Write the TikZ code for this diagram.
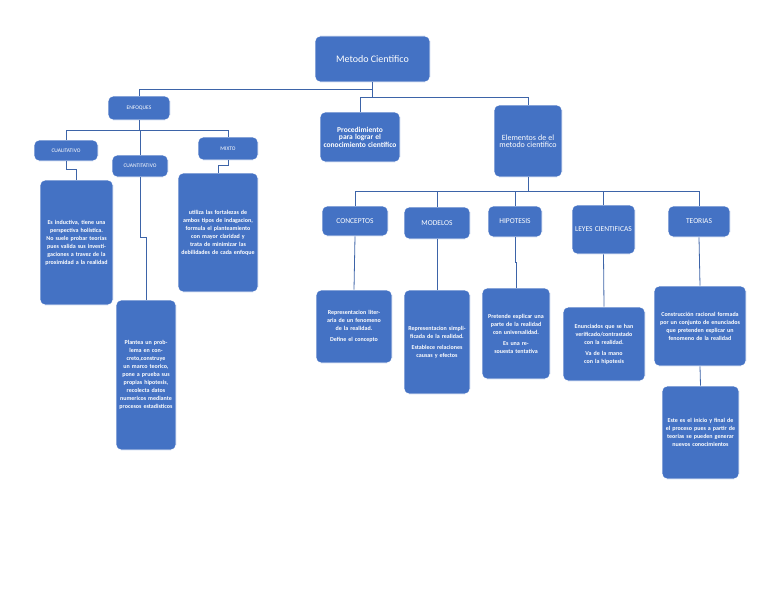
\documentclass[tikz,border=0pt]{standalone}
\usepackage{fontspec}
\setmainfont{Carlito}
\definecolor{bx}{HTML}{4472C4}
\definecolor{ln}{HTML}{3D64A8}
\begin{document}
\begin{tikzpicture}[x=1pt,y=-1pt,
 bx/.style={draw=white,line width=0.8pt,fill=bx,rounded corners=5pt,text=white,align=center,inner sep=2pt,font=\fontsize{6.3}{7.4}\selectfont},
 bt/.style={bx,font=\bfseries\fontsize{6}{8}\selectfont},
 ln/.style={draw=ln,line width=0.8pt}]
\useasboundingbox (0,0) rectangle (768,594);
\newcommand\bxat[6]{\node[#1,minimum width=#4-#2,minimum height=#5-#3,text width=#4-#2-6] (#6) at ({(#2+#4)/2},{(#3+#5)/2})}
\bxat{bx}{315}{36}{430}{82}{m}{\fontsize{10}{12}\selectfont Metodo Cientifico};
\bxat{bx}{108}{96}{170}{120}{enf}{\fontsize{5.5}{7}\selectfont ENFOQUES};
\bxat{bx}{34}{140}{98}{161}{cual}{\fontsize{5.5}{7}\selectfont CUALITATIVO};
\bxat{bx}{112}{155}{168}{177}{cuan}{\fontsize{5.5}{7}\selectfont CUANTITATIVO};
\bxat{bx}{198}{137}{258}{160}{mix}{\fontsize{5.5}{7}\selectfont MIXTO};
\bxat{bt}{40}{180}{113}{305}{cualt}{Es inductiva, tiene una perspectiva holística. No suele probar teorías pues valida sus investigaciones a travez de la proximidad a la realidad};
\bxat{bt}{178}{173}{258}{292}{mixt}{utiliza las fortalezas de ambos tipos de indagacion, formula el planteamiento con mayor claridad y trata de minimizar las debilidades de cada enfoque};
\bxat{bt}{116}{300}{176}{450}{cuant}{Plantea un problema en concreto,construye un marco teorico, pone a prueba sus propias hipotesis, recolecta datos numericos mediante procesos estadisticos};
\bxat{bx}{320}{112}{400}{162}{proc}{\bfseries\fontsize{7.5}{8.5}\selectfont Procedimiento para lograr el conocimiento científico};
\bxat{bx}{494}{105}{562}{177}{el}{\fontsize{8}{10}\selectfont Elementos de el metodo cientifico};
\bxat{bx}{322}{206}{388}{236}{con}{\fontsize{7.5}{9}\selectfont CONCEPTOS};
\bxat{bx}{404}{207}{470}{239}{mod}{\fontsize{7.5}{9}\selectfont MODELOS};
\bxat{bx}{488}{206}{542}{237}{hip}{\fontsize{7.5}{9}\selectfont HIPOTESIS};
\bxat{bx}{572}{205}{635}{254}{ley}{\fontsize{7.5}{9}\selectfont LEYES CIENTIFICAS};
\bxat{bx}{668}{206}{730}{237}{teo}{\fontsize{7.5}{9}\selectfont TEORIAS};
\bxat{bt}{316}{290}{392}{363}{cont}{Representacion literaria de un fenomeno de la realidad.\\[3pt] Define el concepto};
\bxat{bt}{404}{290}{470}{394}{modt}{Representacion simplificada de la realidad.\\[3pt] Establece relaciones causas y efectos};
\bxat{bt}{482}{288}{550}{379}{hipt}{Pretende explicar una parte de la realidad con universalidad.\\[3pt] Es una resouesta tentativa};
\bxat{bt}{563}{307}{645}{381}{leyt}{Enunciados que se han verificado/contrastado con la realidad.\\[3pt] Va de la mano con la hipotesis};
\bxat{bt}{654}{286}{746}{366}{teot}{Construcción racional formada por un conjunto de enunciados que pretenden explicar un fenomeno de la realidad};
\bxat{bt}{662}{386}{739}{479}{teot2}{Este es el inicio y final de el proceso pues a partir de teorias se pueden generar nuevos conocimientos};
\draw[ln] (m.south) -- ++(0,7) coordinate (a1) -| (enf.north);
\draw[ln] (m.south) -- ++(0,15) coordinate (a2) -| (el.north);
\draw[ln] (a2) -| (proc.north);
\draw[ln] (enf.south) -- ++(0,10) coordinate (b1) -| (cual.north);
\draw[ln] (b1) -| (cuan.north);
\draw[ln] (b1) -| (mix.north);
\draw[ln] (el.south) -- ++(0,14) coordinate (c1) -| (con.north);
\draw[ln] (c1) -| (mod.north);
\draw[ln] (c1) -| (hip.north);
\draw[ln] (c1) -| (ley.north);
\draw[ln] (c1) -| (teo.north);
\draw[ln] (cual.south) -- ++(0,8) -| (cualt.north);
\draw[ln] (mix.south) -- ++(0,5) -| (mixt.north);
\draw[ln] (cuan.south) -- ++(0,60) -| (cuant.north);
\draw[ln] (con.south) -- (cont.north);
\draw[ln] (mod.south) -- (modt.north);
\draw[ln] (hip.south) -- ++(0,25) -| (hipt.north);
\draw[ln] (ley.south) -- (leyt.north);
\draw[ln] (teo.south) -- (teot.north);
\draw[ln] (teot.south) -- (teot2.north);
\end{tikzpicture}
\end{document}
